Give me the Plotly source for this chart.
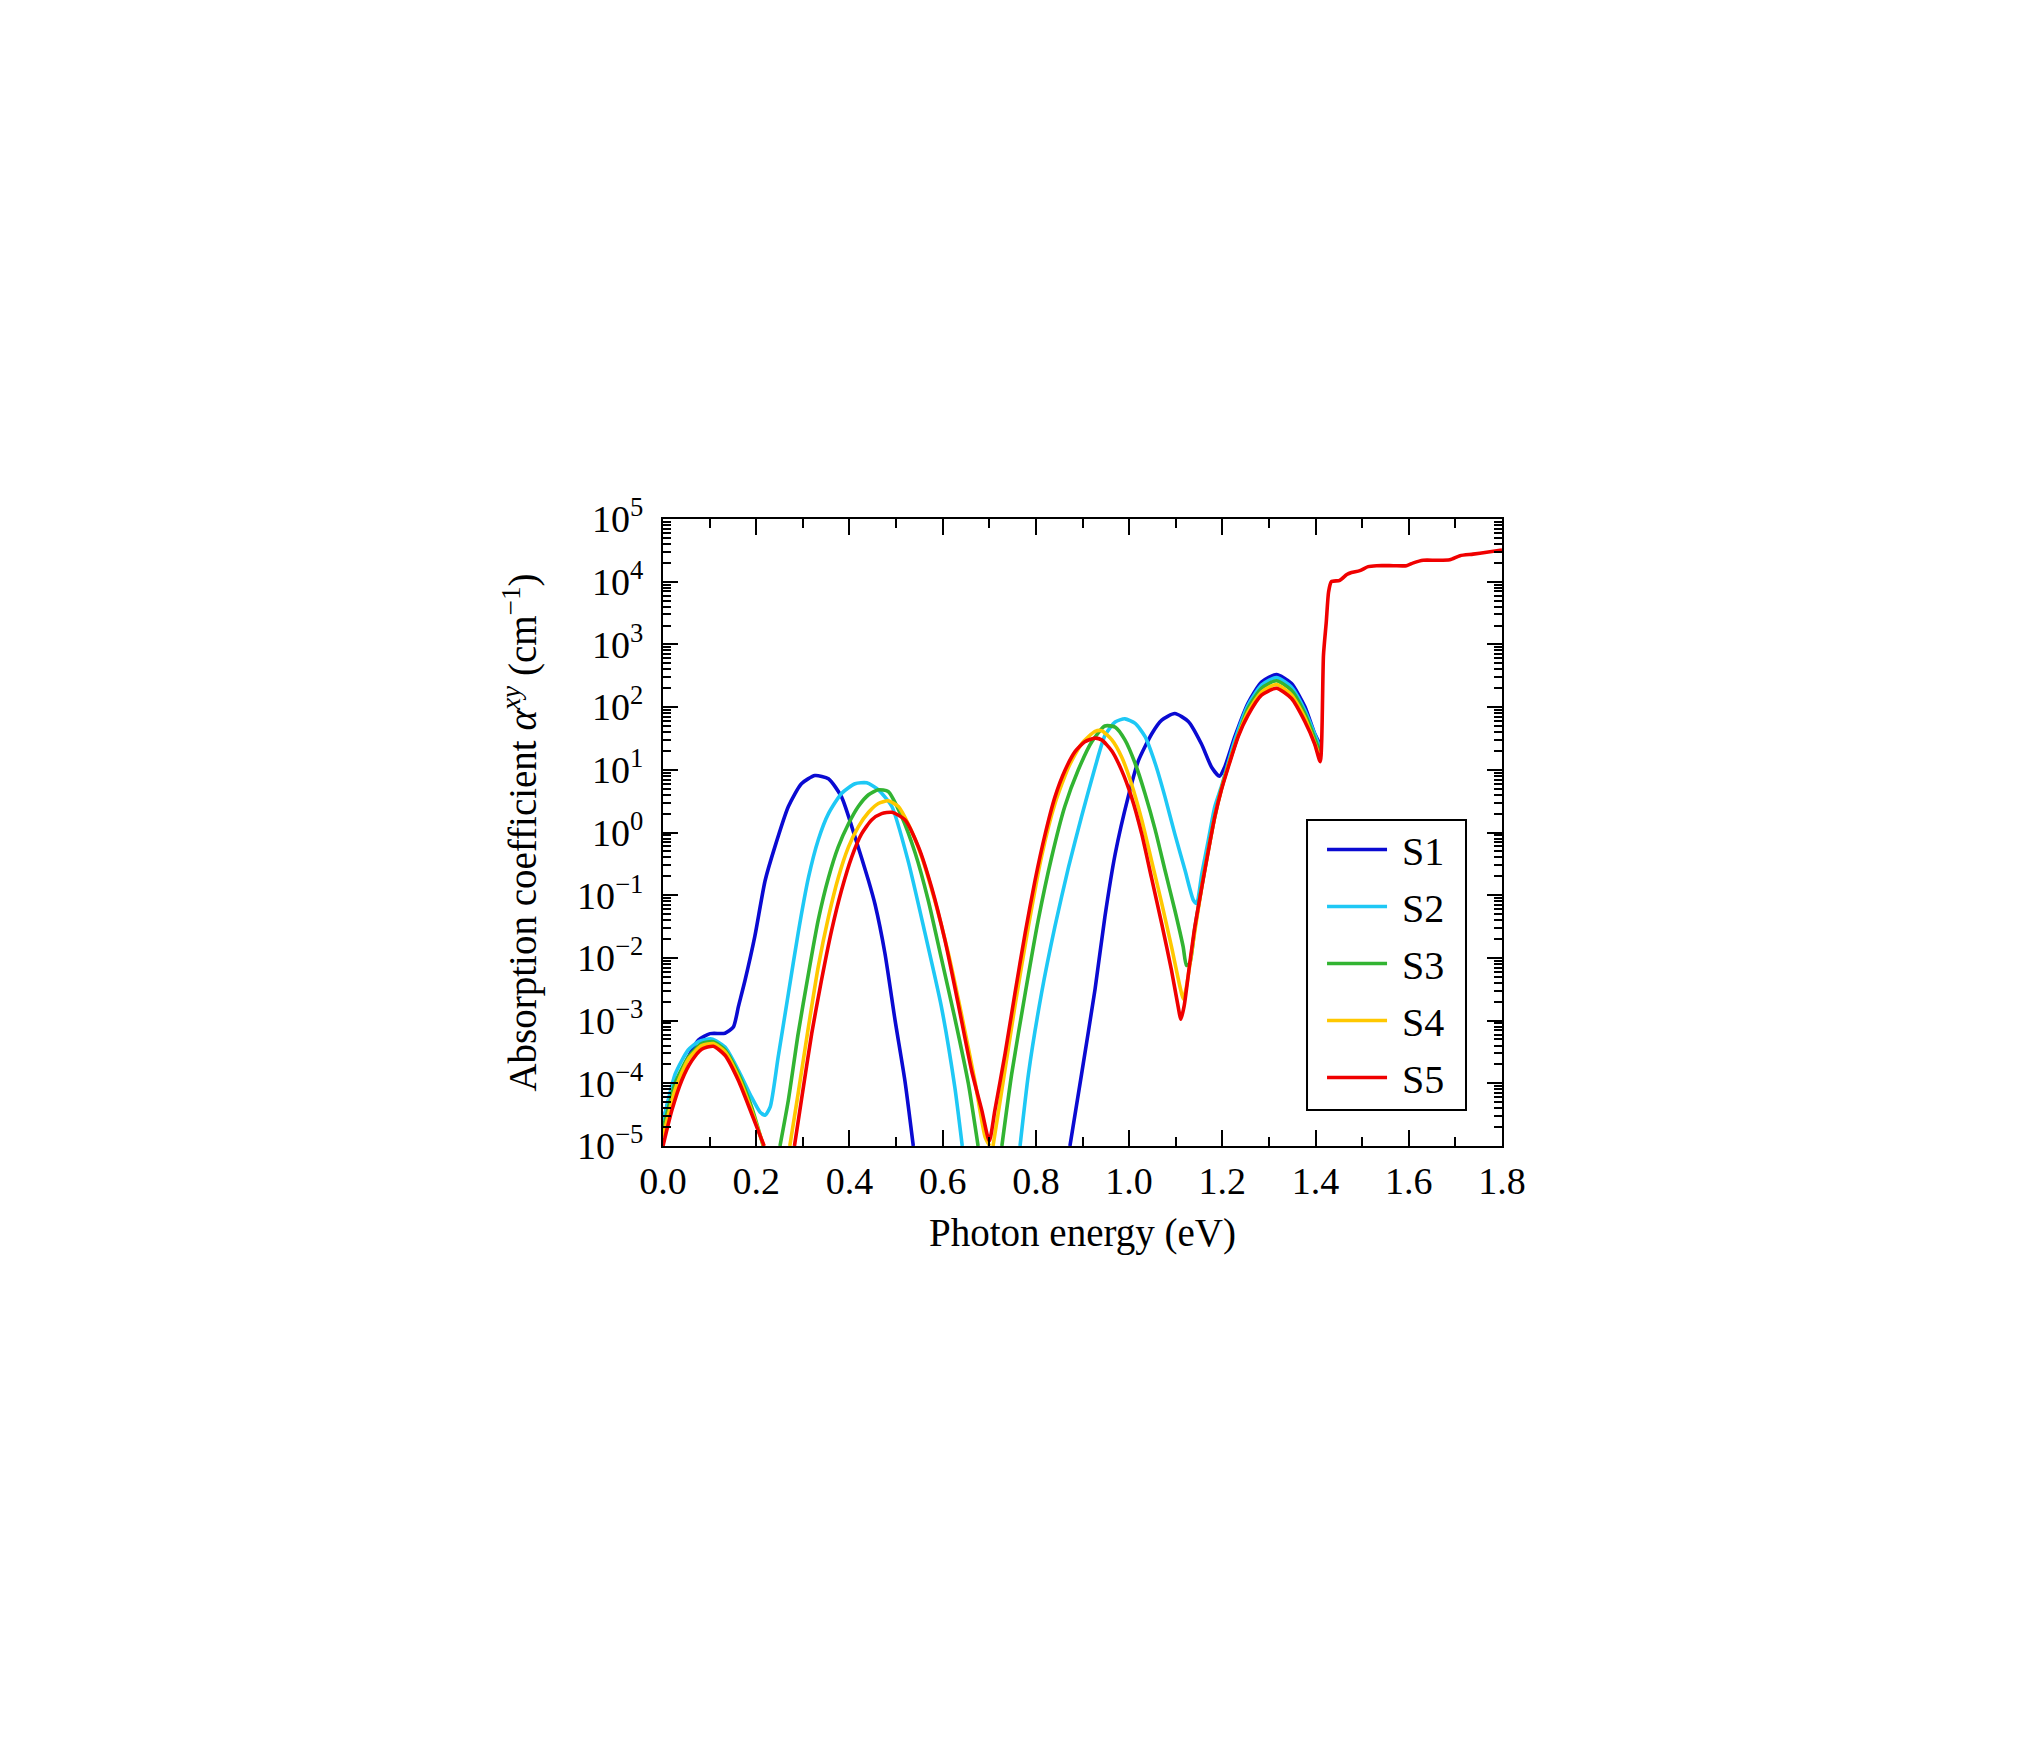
import plotly.graph_objects as go

# ---------------- data ----------------
series_names = ["S1", "S2", "S3", "S4", "S5"]
series_colors = ["#0A0AD2", "#1EC8F5", "#32B432", "#FFC800", "#F00000"]

s1_energy = [0.000, 0.015, 0.033, 0.054, 0.076, 0.101, 0.133, 0.151, 0.162, 0.176, 0.197, 0.219,
             0.240, 0.269, 0.297, 0.326, 0.355, 0.383, 0.412, 0.441, 0.455, 0.476, 0.498, 0.519,
             0.537, None,
             0.873, 0.898, 0.927, 0.948, 0.970, 0.998, 1.020, 1.049, 1.070, 1.098, 1.127, 1.155,
             1.177, 1.194, 1.205, 1.227, 1.255, 1.284, 1.316, 1.348, 1.377, 1.398, 1.409]
s1_alpha = [2.4e-5, 6.3e-5, 1.1e-4, 2.6e-4, 4.9e-4, 6.2e-4, 6.3e-4, 7.9e-4, 1.7e-3, 4.4e-3, 2.2e-2, 0.17,
            0.59, 2.6, 6.0, 8.1, 7.2, 3.7, 0.85, 0.17, 0.071, 0.012, 1.0e-3, 1.1e-4,
            1.0e-5, None,
            1.0e-5, 1.4e-4, 3.2e-3, 0.045, 0.45, 3.7, 14, 38, 62, 79, 59, 26,
            11, 7.9, 11, 34, 115, 250, 330, 240, 102, 38, 26]

s2_energy = [0.000, 0.004, 0.026, 0.054, 0.076, 0.104, 0.133, 0.162, 0.190, 0.208, 0.219, 0.230,
             0.247, 0.269, 0.290, 0.312, 0.333, 0.355, 0.383, 0.412, 0.437, 0.462, 0.491, 0.526,
             0.562, 0.597, 0.626, 0.642, None,
             0.766, 0.784, 0.812, 0.841, 0.870, 0.898, 0.927, 0.948, 0.970, 0.991, 1.013, 1.034,
             1.056, 1.077, 1.098, 1.120, 1.138, 1.145, 1.156, 1.170, 1.184, 1.198, 1.227, 1.255,
             1.284, 1.316, 1.348, 1.377, 1.409]
s2_alpha = [2.5e-5, 3.2e-5, 1.4e-4, 3.4e-4, 4.6e-4, 5.1e-4, 3.8e-4, 1.6e-4, 6.0e-5, 3.5e-5, 3.1e-5, 4.2e-5,
            2.6e-4, 2.7e-3, 0.025, 0.19, 0.76, 2.0, 4.2, 6.0, 6.2, 4.8, 2.6, 0.35,
            0.025, 1.7e-3, 8.7e-5, 1.0e-5, None,
            1.0e-5, 1.4e-4, 2.7e-3, 0.032, 0.28, 1.8, 11, 35, 58, 65, 55, 34,
            12.6, 3.7, 0.95, 0.25, 0.083, 0.074, 0.22, 0.76, 2.6, 5.4, 30, 107,
            224, 295, 209, 89, 23]

s3_energy = [0.000, 0.026, 0.054, 0.083, 0.108, 0.133, 0.162, 0.190, 0.215, None,
             0.251, 0.269, 0.290, 0.312, 0.333, 0.355, 0.376, 0.398, 0.419, 0.441, 0.462, 0.483,
             0.512, 0.541, 0.569, 0.597, 0.626, 0.655, 0.676, None,
             0.727, 0.748, 0.777, 0.805, 0.834, 0.862, 0.891, 0.920, 0.948, 0.970, 0.991, 1.013,
             1.034, 1.056, 1.077, 1.098, 1.116, 1.123, 1.130, 1.141, 1.156, 1.170, 1.184, 1.198,
             1.213, 1.227, 1.255, 1.284, 1.316, 1.348, 1.377, 1.409]
s3_alpha = [1.8e-5, 1.0e-4, 2.6e-4, 4.3e-4, 4.6e-4, 3.4e-4, 1.4e-4, 4.2e-5, 1.0e-5, None,
            1.0e-5, 5.4e-5, 6.2e-4, 5.6e-3, 0.040, 0.19, 0.59, 1.38, 2.6, 4.0, 4.8, 4.5,
            1.8, 0.47, 0.083, 0.010, 1.1e-3, 1.0e-4, 1.0e-5, None,
            1.0e-5, 1.4e-4, 2.7e-3, 0.040, 0.41, 2.6, 10, 28, 50, 48, 30, 12.6,
            4.2, 1.1, 0.25, 0.058, 0.015, 7.6e-3, 8.1e-3, 0.030, 0.14, 0.53, 1.85, 5.0,
            12, 25, 95, 200, 263, 186, 79, 19.5]

s4_energy = [0.000, 0.026, 0.054, 0.083, 0.108, 0.133, 0.162, 0.190, 0.216, None,
             0.272, 0.290, 0.312, 0.333, 0.355, 0.376, 0.398, 0.419, 0.441, 0.462, 0.483, 0.505,
             0.526, 0.555, 0.583, 0.612, 0.640, 0.669, 0.691, 0.701, None,
             0.708, 0.727, 0.755, 0.784, 0.812, 0.841, 0.870, 0.898, 0.927, 0.941, 0.963, 0.984,
             1.005, 1.027, 1.048, 1.070, 1.091, 1.109, 1.116, 1.123, 1.138, 1.156, 1.170, 1.184,
             1.198, 1.213, 1.234, 1.255, 1.284, 1.316, 1.348, 1.377, 1.409]
s4_alpha = [1.4e-5, 7.9e-5, 2.4e-4, 4.0e-4, 4.3e-4, 3.2e-4, 1.26e-4, 3.7e-5, 1.0e-5, None,
            1.0e-5, 6.9e-5, 7.9e-4, 7.2e-3, 0.045, 0.19, 0.59, 1.23, 2.1, 2.9, 3.2, 2.6,
            1.38, 0.41, 0.083, 0.012, 1.3e-3, 1.1e-4, 1.4e-5, 1.0e-5, None,
            1.0e-5, 7.8e-5, 1.7e-3, 0.032, 0.41, 2.9, 11, 26, 41, 42, 30, 16,
            6.0, 1.6, 0.36, 0.074, 0.015, 3.5e-3, 2.2e-3, 3.5e-3, 0.019, 0.138, 0.52, 1.8,
            4.9, 11.7, 35, 83, 174, 229, 158, 68, 16]

s5_energy = [0.000, 0.019, 0.040, 0.062, 0.083, 0.108, 0.133, 0.162, 0.190, 0.217, None,
             0.282, 0.297, 0.319, 0.340, 0.362, 0.383, 0.405, 0.426, 0.448, 0.469, 0.491, 0.519,
             0.548, 0.576, 0.605, 0.633, 0.662, 0.684, 0.700, 0.712, 0.734, 0.755, 0.777, 0.798,
             0.820, 0.841, 0.863, 0.884, 0.905, 0.927, 0.941, 0.963, 0.984, 1.005, 1.027, 1.048,
             1.070, 1.091, 1.105, 1.111, 1.118, 1.130, 1.141, 1.156, 1.170, 1.184, 1.198, 1.213,
             1.234, 1.255, 1.284, 1.316, 1.348, 1.377, 1.398, 1.410, 1.417, 1.423, 1.428, 1.434,
             1.452, 1.467, 1.477, 1.495, 1.513, 1.531, 1.567, 1.595, 1.610, 1.631, 1.660, 1.688,
             1.710, 1.738, 1.767, 1.800]
s5_alpha = [1.0e-5, 3.7e-5, 1.1e-4, 2.3e-4, 3.5e-4, 3.9e-4, 2.8e-4, 1.1e-4, 3.3e-5, 1.0e-5, None,
            1.0e-5, 5.4e-5, 6.2e-4, 4.4e-3, 0.028, 0.12, 0.41, 0.95, 1.6, 2.0, 2.1, 1.6,
            0.59, 0.135, 0.019, 1.9e-3, 1.6e-4, 3.7e-5, 1.2e-5, 3.7e-5, 3.0e-4, 2.7e-3, 0.025, 0.17,
            0.95, 3.7, 10, 19.5, 28, 32, 30, 20, 9.8, 3.7, 0.95, 0.19,
            0.035, 6.3e-3, 1.7e-3, 1.05e-3, 1.7e-3, 8.1e-3, 0.031, 0.135, 0.51, 1.8, 4.8, 11.2,
            34, 74, 155, 200, 138, 59, 26, 13.5, 676, 2290, 6900, 1.0e4,
            1.05e4, 1.3e4, 1.4e4, 1.5e4, 1.74e4, 1.8e4, 1.8e4, 1.8e4, 2.0e4, 2.2e4, 2.2e4, 2.24e4,
            2.6e4, 2.75e4, 2.95e4, 3.2e4]

energies = [s1_energy, s2_energy, s3_energy, s4_energy, s5_energy]
alphas = [s1_alpha, s2_alpha, s3_alpha, s4_alpha, s5_alpha]

x_tick_values = [0.0, 0.2, 0.4, 0.6, 0.8, 1.0, 1.2, 1.4, 1.6, 1.8]
x_tick_labels = ["0.0", "0.2", "0.4", "0.6", "0.8", "1.0", "1.2", "1.4", "1.6", "1.8"]
y_tick_values = [1e-5, 1e-4, 1e-3, 1e-2, 1e-1, 1e0, 1e1, 1e2, 1e3, 1e4, 1e5]
y_tick_labels = ["10<sup>−5</sup>", "10<sup>−4</sup>", "10<sup>−3</sup>", "10<sup>−2</sup>",
                 "10<sup>−1</sup>", "10<sup>0</sup>", "10<sup>1</sup>", "10<sup>2</sup>",
                 "10<sup>3</sup>", "10<sup>4</sup>", "10<sup>5</sup>"]

# ---------------- figure ----------------
FONT = "Liberation Serif, Times New Roman, serif"
fig = go.Figure()
for name, color, xs, ys in zip(series_names, series_colors, energies, alphas):
    fig.add_trace(go.Scatter(
        x=xs, y=ys, name="\u00a0" + name, mode="lines", legendgroup=name,
        line=dict(color=color, width=3.6, shape="spline", smoothing=0.6), connectgaps=False,
    ))

axis_common = dict(
    showline=True, linecolor="black", linewidth=2, mirror="allticks",
    ticks="inside", tickcolor="black", tickwidth=2, showgrid=False, zeroline=False,
    tickfont=dict(family=FONT, size=38, color="black"),
)

fig.update_xaxes(
    range=[0, 1.8], tickvals=x_tick_values, ticktext=x_tick_labels, ticklen=16,
    minor=dict(ticks="inside", dtick=0.1, ticklen=9, tickwidth=2, tickcolor="black", showgrid=False),
    title=dict(text="Photon energy (eV)", font=dict(family=FONT, size=39, color="black"), standoff=18),
    **axis_common,
)
fig.update_yaxes(
    type="log", range=[-5, 5], tickvals=y_tick_values, ticktext=y_tick_labels, ticklen=15,
    ticklabelstandoff=10,
    minor=dict(ticks="inside", dtick="D1", ticklen=8, tickwidth=1.5, tickcolor="black", showgrid=False),
    title=dict(text="Absorption coefficient <i>α</i><sup><i>xy</i></sup> (cm<sup>−1</sup>)",
               font=dict(family=FONT, size=39, color="black"), standoff=28),
    **axis_common,
)

# legend frame (box of the native legend drawn at the reference position)
fig.add_shape(type="rect", xref="paper", yref="paper",
              x0=0.7676, x1=0.9571, y0=0.0574, y1=0.5199,
              line=dict(color="black", width=2), fillcolor="rgba(0,0,0,0)", layer="above")

fig.update_layout(
    width=2024, height=1757,
    margin=dict(l=663, r=522, t=519, b=611, pad=0),
    paper_bgcolor="white", plot_bgcolor="white",
    font=dict(family=FONT, color="black"),
    legend=dict(
        x=0.7855, y=0.5247, xanchor="left", yanchor="top",
        bgcolor="rgba(0,0,0,0)", borderwidth=0,
        font=dict(family=FONT, size=40, color="black"),
        itemwidth=60, tracegroupgap=2,
    ),
)

fig.write_html("out.html")
